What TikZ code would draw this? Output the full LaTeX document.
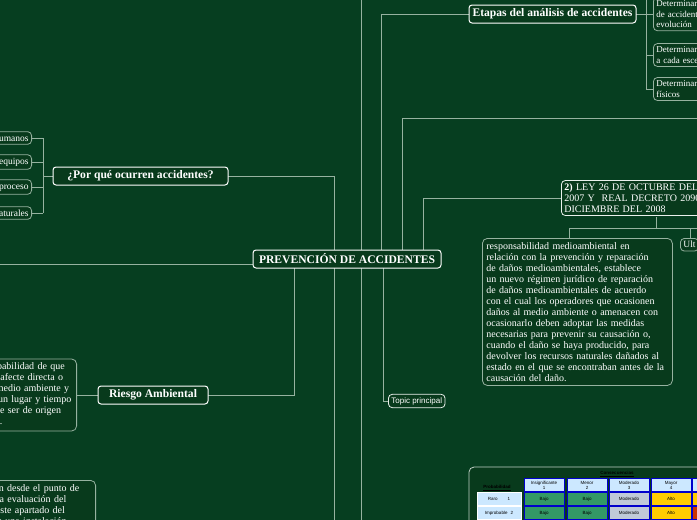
\documentclass[tikz,border=0pt]{standalone}
\usepackage{fontspec}
\setmainfont{Liberation Serif}
\newfontfamily\sfc{Liberation Sans}
\hyphenpenalty=10000
\begin{document}
\begin{tikzpicture}[x=1pt,y=-1pt,
  conn/.style={draw=lnc,line width=1pt},
  main/.style={draw=white,fill=nodefill,rounded corners=3pt,line width=1pt,text=white,font=\bfseries\fontsize{11.6}{13}\selectfont,inner sep=3pt},
  sub/.style={draw=lnc,fill=nodefill,rounded corners=4pt,line width=0.8pt,text=white,font=\fontsize{9.5}{10.5}\selectfont,inner sep=3pt},
  txt/.style={draw=lnc,fill=nodefill,rounded corners=5pt,line width=0.8pt,text=white,font=\fontsize{10}{11}\selectfont,align=left,inner sep=4pt},
  cell/.style={draw=blue!80!black,line width=0.6pt,minimum height=13pt,font=\sfc\fontsize{4.5}{5}\selectfont,inner sep=0pt}]
\definecolor{bg}{RGB}{6,62,32}
\definecolor{nodefill}{RGB}{8,58,28}
\definecolor{lnc}{RGB}{150,178,160}
\useasboundingbox (0,0) rectangle (697,520);
\clip (0,0) rectangle (697,520);
\fill[bg] (0,0) rectangle (697,520);
% connectors
\coordinate (topA) at (361,0);
\coordinate (botA) at (361,520);
\coordinate (botB) at (334,520);
\coordinate (leftA) at (0,264);
\draw[conn] (361,250) -- (topA);
\draw[conn] (361,268) -- (botA);
\draw[conn] (334,268) -- (botB);
\draw[conn] (253,264) -- (leftA);
\draw[conn] (334,250) |- (228,176);
\draw[conn] (381,250) |- (469,14);
\draw[conn] (402,250) |- (697,118);
\draw[conn] (423,250) |- (561,198);
\draw[conn] (294,268) |- (208,395);
\draw[conn] (383,268) |- (388,401);
\draw[conn] (53,176) -- (43,176);
\draw[conn] (43,138) -- (43,213);
\foreach \y in {138,162,187,213} \draw[conn] (32,\y) -- (43,\y);
\draw[conn] (98,395) -- (77,395);
\draw[conn] (636,14) -- (646,14);
\draw[conn] (646,0) -- (646,89);
\foreach \y in {14,55,89} \draw[conn] (646,\y) -- (653,\y);
\draw[conn] (656,217) -- (656,228);
\draw[conn] (569,228) -- (697,228);
\draw[conn] (569,228) -- (569,238);
\draw[conn] (690,228) -- (690,238);
% center
\node[main,minimum width=188pt,minimum height=18pt] (c) at (347,259) {PREVENCIÓN DE ACCIDENTES};
\node[main,minimum width=175pt,minimum height=18pt] (por) at (140.5,176) {¿Por qué ocurren accidentes?};
\node[main,minimum width=167pt,minimum height=18pt] (et) at (552.5,14) {Etapas del análisis de accidentes};
\node[main,minimum width=110pt,minimum height=18pt] (rie) at (153,395) {Riesgo Ambiental};
\node[sub,draw=white!80!lnc,anchor=west,font=\sfc\fontsize{8}{9}\selectfont] (tp) at (388,401) {Topic principal};
% left children
\node[sub,anchor=east] (h1) at (32,138) {Fallos humanos};
\node[sub,anchor=east] (h2) at (32,162) {Fallos en equipos};
\node[sub,anchor=east] (h3) at (32,187) {Fallos en el proceso};
\node[sub,anchor=east] (h4) at (32,213) {Causas naturales};
\node[txt,anchor=east,text width=150pt] (rtx) at (77,395) {Se entiende la probabilidad de que un suceso adverso  afecte directa o indirectamente al medio ambiente y a su población en un lugar y tiempo determinado. Puede ser de origen natural o antrópico.};
\node[txt,anchor=north east,text width=190pt] (btx) at (96,480) {Se trata de la prevención desde el punto de vista ambiental, donde la evaluación del riesgo se encuentra en este apartado del análisis de accidentes en una instalación.};
% Etapas children
\node[sub,anchor=west,text width=85pt,align=left,font=\fontsize{9}{10.5}\selectfont] (e1) at (653,14) {Determinar las fuentes de accidentes y su evolución};
\node[sub,anchor=west,text width=85pt,align=left,font=\fontsize{9}{10.5}\selectfont] (e2) at (653,55) {Determinar las causas a cada escenario};
\node[sub,anchor=west,text width=85pt,align=left,font=\fontsize{9}{10.5}\selectfont] (e3) at (653,89) {Determinar los efectos físicos};
% LEY
\node[sub,draw=white!80!lnc,anchor=west,text width=170pt,font=\fontsize{10}{11}\selectfont,align=left] (ley) at (561,198) {\textbf{2)} LEY 26 DE OCTUBRE DEL 2007 Y\ \ REAL DECRETO 2090 DE DICIEMBRE DEL 2008};
\node[txt,anchor=north west,text width=182pt,inner sep=4pt] (resp) at (482,238) {responsabilidad medioambiental  en relación  con  la  prevención  y  reparación de  daños  medioambientales, establece un nuevo régimen jurídico de reparación de daños medioambientales de acuerdo con  el cual  los  operadores  que  ocasionen  daños al  medio  ambiente  o  amenacen  con ocasionarlo deben adoptar las medidas necesarias para prevenir su causación o, cuando el daño se haya producido, para devolver los recursos naturales dañados al estado en el que se encontraban antes de la causación del daño.};
\node[sub,anchor=north west] (ul) at (680,238) {Ult};
% table
\draw[draw=lnc!60!white,fill=nodefill,rounded corners=5pt,line width=0.8pt] (469,467) rectangle (720,540);
\node[font=\sfc\bfseries\fontsize{4.5}{5}\selectfont,text=black] (cons) at (617,474) {\underline{Consecuencias}};
\node[font=\sfc\bfseries\fontsize{4.5}{5}\selectfont,text=black] (prob) at (497,488) {\underline{Probabilidad}};
\definecolor{hb}{RGB}{204,232,255}
\definecolor{gb}{RGB}{51,153,102}
\definecolor{mb}{RGB}{192,202,216}
\definecolor{yb}{RGB}{255,204,0}
\definecolor{rb}{RGB}{204,51,0}
\foreach \x/\t [count=\i] in {544/{Insignificante\\1},587/{Menor\\2},629/{Moderado\\3},671/{Mayor\\4},712/{Catastrófico\\5}}
  \node[cell,fill=hb,minimum width=40pt,align=center] (h\i) at (\x,485) {\t};
\node[cell,fill=hb,draw=white,minimum width=44pt] (r1) at (499,499) {Raro\hspace{10pt}1};
\node[cell,fill=hb,draw=white,minimum width=44pt] (r2) at (499,513) {Improbable\hspace{3pt}2};
\foreach \x/\c/\t [count=\i] in {544/gb/Bajo,587/gb/Bajo,629/mb/Moderado,671/yb/Alto,712/yb/Alto}
  \node[cell,fill=\c,minimum width=40pt] (a\i) at (\x,499) {\t};
\foreach \x/\c/\t [count=\i] in {544/gb/Bajo,587/gb/Bajo,629/mb/Moderado,671/yb/Alto,712/rb/Extremo}
  \node[cell,fill=\c,minimum width=40pt] (b\i) at (\x,513) {\t};
\end{tikzpicture}
\end{document}
